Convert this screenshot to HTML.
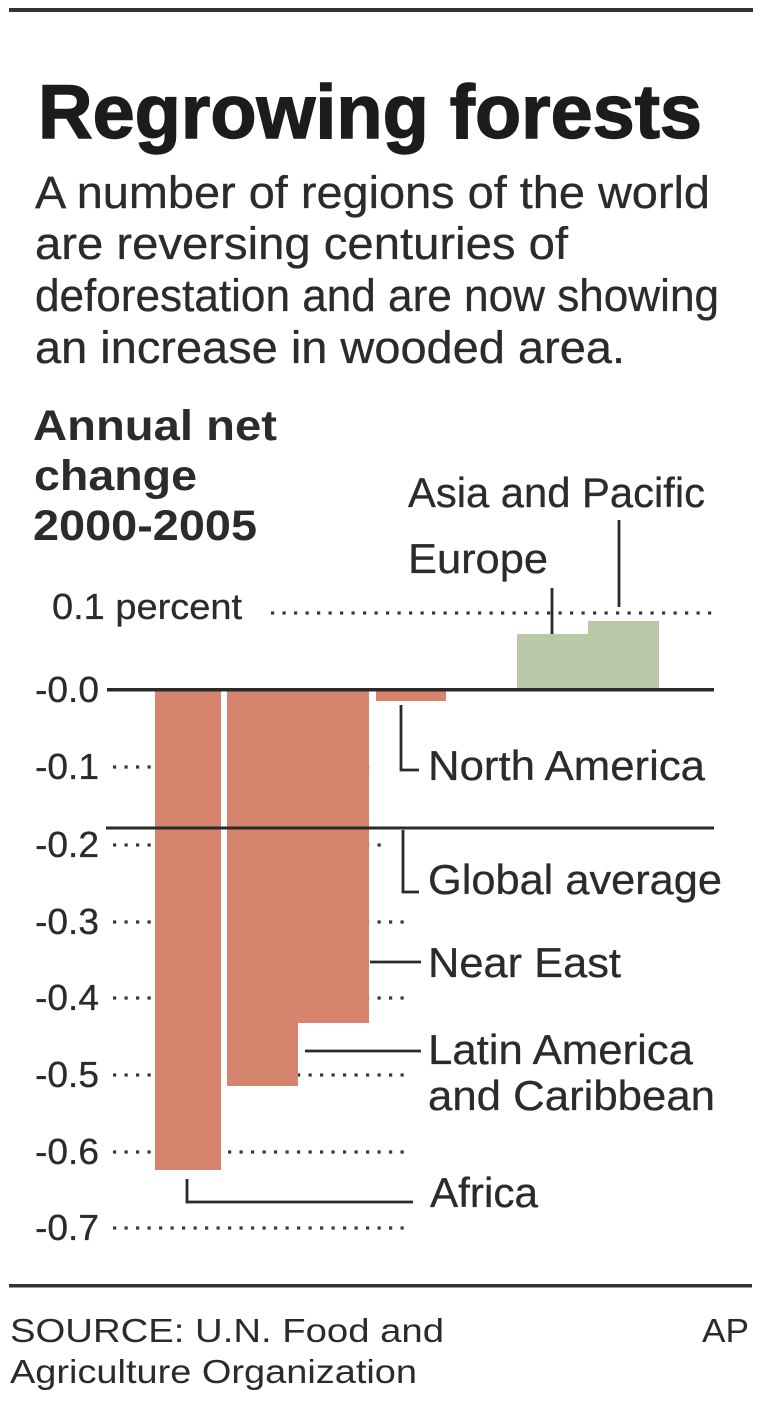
<!DOCTYPE html>
<html><head><meta charset="utf-8"><style>
html,body{margin:0;padding:0;background:#fff;}
svg{display:block;}
text{font-family:"Liberation Sans",Arial,sans-serif;fill:#2b2b2b;}
</style></head><body>
<svg width="760" height="1402" viewBox="0 0 760 1402" xmlns="http://www.w3.org/2000/svg">
<rect width="760" height="1402" fill="#fff"/>
<!-- top rule -->
<rect x="9" y="8" width="744" height="4" fill="#333"/>
<!-- title -->
<text x="38" y="138" font-size="76" font-weight="bold" textLength="664" lengthAdjust="spacingAndGlyphs" style="fill:#1c1c1c;stroke:#1c1c1c;stroke-width:1.4">Regrowing forests</text>
<!-- body -->
<g font-size="45" style="stroke:#2b2b2b;stroke-width:0.3">
<text x="35" y="208" textLength="675" lengthAdjust="spacingAndGlyphs">A number of regions of the world</text>
<text x="35" y="259" textLength="533" lengthAdjust="spacingAndGlyphs">are reversing centuries of</text>
<text x="35" y="311" textLength="684" lengthAdjust="spacingAndGlyphs">deforestation and are now showing</text>
<text x="35" y="363" textLength="590" lengthAdjust="spacingAndGlyphs">an increase in wooded area.</text>
</g>
<!-- axis title -->
<g font-size="43" font-weight="bold">
<text x="33" y="440" textLength="244" lengthAdjust="spacingAndGlyphs">Annual net</text>
<text x="34" y="490" textLength="163" lengthAdjust="spacingAndGlyphs">change</text>
<text x="33" y="540" textLength="224" lengthAdjust="spacingAndGlyphs">2000-2005</text>
</g>
<!-- gridlines -->
<g stroke="#3a3a3a" stroke-width="3.2" stroke-dasharray="3.2 8.3" fill="none">
<line x1="271" y1="613" x2="714" y2="613"/>
<line x1="113" y1="767" x2="373" y2="767"/>
<line x1="113" y1="845" x2="389" y2="845"/>
<line x1="113" y1="922" x2="409" y2="922"/>
<line x1="113" y1="998" x2="409" y2="998"/>
<line x1="113" y1="1075" x2="409" y2="1075"/>
<line x1="113" y1="1152" x2="409" y2="1152"/>
<line x1="113" y1="1228" x2="409" y2="1228"/>
</g>
<!-- bars -->
<g fill="#d6846e">
<rect x="155" y="690" width="66" height="480"/>
<rect x="227" y="690" width="71" height="396"/>
<rect x="227" y="690" width="142" height="333"/>
<rect x="376" y="690" width="70" height="11"/>
</g>
<g fill="#b9c8a6">
<rect x="517" y="634" width="71" height="56"/>
<rect x="588" y="621" width="71" height="69"/>
</g>
<!-- zero and global average lines -->
<rect x="107" y="688" width="607" height="3.5" fill="#2a2a2a"/>
<rect x="106" y="826.5" width="608" height="3" fill="#2a2a2a"/>
<!-- leader lines -->
<g stroke="#2a2a2a" stroke-width="2.8" fill="none">
<polyline points="401,705 401,770 419,770"/>
<polyline points="403,830 403,892 419,892"/>
<line x1="370" y1="962" x2="421" y2="962"/>
<line x1="305" y1="1051" x2="421" y2="1051"/>
<polyline points="187,1179 187,1202 413,1202"/>
<line x1="552" y1="588" x2="552" y2="634"/>
<line x1="619" y1="520" x2="619" y2="607"/>
</g>
<!-- tick labels -->
<g font-size="36" style="stroke:#2b2b2b;stroke-width:0.3">
<text x="52" y="619" textLength="190" lengthAdjust="spacingAndGlyphs">0.1 percent</text>
<text x="35" y="702" textLength="64" lengthAdjust="spacingAndGlyphs">-0.0</text>
<text x="35" y="779" textLength="64" lengthAdjust="spacingAndGlyphs">-0.1</text>
<text x="35" y="857" textLength="64" lengthAdjust="spacingAndGlyphs">-0.2</text>
<text x="35" y="934" textLength="64" lengthAdjust="spacingAndGlyphs">-0.3</text>
<text x="35" y="1010" textLength="64" lengthAdjust="spacingAndGlyphs">-0.4</text>
<text x="35" y="1087" textLength="64" lengthAdjust="spacingAndGlyphs">-0.5</text>
<text x="35" y="1164" textLength="64" lengthAdjust="spacingAndGlyphs">-0.6</text>
<text x="35" y="1240" textLength="64" lengthAdjust="spacingAndGlyphs">-0.7</text>
</g>
<!-- series labels -->
<g font-size="42" style="stroke:#2b2b2b;stroke-width:0.3">
<text x="408" y="507" textLength="297" lengthAdjust="spacingAndGlyphs">Asia and Pacific</text>
<text x="408" y="573" textLength="140" lengthAdjust="spacingAndGlyphs">Europe</text>
<text x="428" y="780" textLength="277" lengthAdjust="spacingAndGlyphs">North America</text>
<text x="428" y="894" textLength="294" lengthAdjust="spacingAndGlyphs">Global average</text>
<text x="428" y="977" textLength="193" lengthAdjust="spacingAndGlyphs">Near East</text>
<text x="428" y="1064" textLength="265" lengthAdjust="spacingAndGlyphs">Latin America</text>
<text x="428" y="1110" textLength="287" lengthAdjust="spacingAndGlyphs">and Caribbean</text>
<text x="430" y="1207" textLength="108" lengthAdjust="spacingAndGlyphs">Africa</text>
</g>
<!-- bottom rule -->
<rect x="9" y="1284" width="743" height="3.5" fill="#333"/>
<!-- source -->
<g font-size="33">
<text x="10" y="1342" textLength="434" lengthAdjust="spacingAndGlyphs">SOURCE: U.N. Food and</text>
<text x="10" y="1383" textLength="407" lengthAdjust="spacingAndGlyphs">Agriculture Organization</text>
<text x="702" y="1342" textLength="47" lengthAdjust="spacingAndGlyphs">AP</text>
</g>
</svg>
</body></html>
